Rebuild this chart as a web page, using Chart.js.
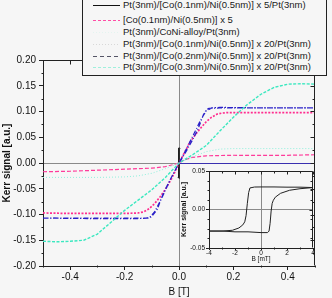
<!DOCTYPE html>
<html><head><meta charset="utf-8">
<script src="https://cdn.jsdelivr.net/npm/chart.js@4/dist/chart.umd.min.js"></script>
<style>
html,body{margin:0;padding:0;background:#f6f6f6;}
#wrap{position:relative;width:332px;height:298px;overflow:hidden;font-family:"Liberation Sans",Arial,sans-serif;}
#main{position:absolute;left:0;top:0;}
#inset{position:absolute;left:178px;top:164px;}
#legbox{position:absolute;left:82px;top:-3px;width:245px;height:79px;border:1px solid #222;background:#f6f6f6;box-sizing:border-box;}
.row{position:absolute;left:93px;height:12px;white-space:nowrap;}
.row svg{position:absolute;left:0;top:0;}
.row span{position:absolute;left:30px;top:0;font-size:9.5px;line-height:12px;color:#1a1a1a;}
</style></head>
<body><div id="wrap">
<canvas id="main" width="332" height="298"></canvas>
<canvas id="inset" width="140" height="100"></canvas>
<div id="legbox"></div>
</div>
<script>
// ---------------- data ----------------
const seriesNames = [
  'Pt(3nm)/[Co(0.1nm)/Ni(0.5nm)] x 5/Pt(3nm)',
  '[Co(0.1nm)/Ni(0.5nm)] x 5',
  'Pt(3nm)/CoNi-alloy/Pt(3nm)',
  'Pt(3nm)/[Co(0.1nm)/Ni(0.5nm)] x 20/Pt(3nm)',
  'Pt(3nm)/[Co(0.2nm)/Ni(0.5nm)] x 20/Pt(3nm)',
  'Pt(3nm)/[Co(0.3nm)/Ni(0.5nm)] x 20/Pt(3nm)'
];
// main axis ticks
const xTickValues = [-0.4, -0.2, 0, 0.2, 0.4];
const yTickValues = [-0.20, -0.15, -0.10, -0.05, 0, 0.05, 0.10, 0.15, 0.20];
// inset ticks
const insetXTickValues = [-4, -2, 0, 2, 4];
const insetYTickValues = [-0.05, 0, 0.05];

// inset hysteresis loop of Pt/[Co/Ni]x5/Pt (field in mT)
const insetFieldDown = [4, 3, 2, 1, 0, -0.5, -0.85, -0.95, -1.05, -1.15, -1.25, -1.4, -1.7, -2.2, -3, -4];
const insetKerrDown  = [0.0285, 0.029, 0.029, 0.0293, 0.0293, 0.0292, 0.028, 0.022, 0.008, -0.008, -0.016, -0.020, -0.024, -0.027, -0.028, -0.028];
const insetFieldUp   = [-4, -3, -2, -1, 0, 0.5, 0.62, 0.7, 0.78, 0.86, 0.95, 1.1, 1.5, 2.2, 3, 4];
const insetKerrUp    = [-0.028, -0.028, -0.029, -0.029, -0.030, -0.030, -0.028, -0.018, -0.002, 0.008, 0.012, 0.016, 0.021, 0.025, 0.027, 0.0285];

// [Co/Ni]x5 (no Pt)
const fieldS2 = [-0.5, -0.4, -0.3, -0.2, -0.1, -0.05, -0.02, 0, 0.02, 0.05, 0.1, 0.2, 0.3, 0.4, 0.5];
const kerrS2  = [-0.017, -0.016, -0.014, -0.012, -0.010, -0.007, -0.003, 0, 0.006, 0.011, 0.014, 0.015, 0.015, 0.015, 0.016];
// CoNi alloy
const fieldS3 = [-0.5, -0.3, -0.2, -0.15, -0.1, -0.05, 0, 0.05, 0.1, 0.15, 0.2, 0.3, 0.5];
const kerrS3  = [-0.028, -0.028, -0.027, -0.025, -0.020, -0.011, 0, 0.012, 0.022, 0.027, 0.028, 0.028, 0.028];
// x20 Co 0.1
const fieldS4 = [-0.5, -0.4, -0.3, -0.2, -0.15, -0.13, -0.11, -0.09, -0.07, -0.05, -0.03, -0.01, 0, 0.02, 0.04, 0.06, 0.08, 0.1, 0.12, 0.14, 0.16, 0.18, 0.25, 0.35, 0.5];
const kerrS4  = [-0.097, -0.098, -0.098, -0.098, -0.097, -0.095, -0.089, -0.079, -0.066, -0.051, -0.033, -0.012, 0, 0.02, 0.04, 0.055, 0.068, 0.080, 0.089, 0.095, 0.097, 0.098, 0.098, 0.098, 0.098];
// x20 Co 0.2 (up sweep then down sweep)
const fieldS5 = [-0.5, -0.3, -0.15, -0.12, -0.105, -0.09, -0.07, -0.05, -0.03, -0.01, 0, 0.02, 0.04, 0.06, 0.08, 0.1, 0.12, 0.15, 0.3, 0.5,
                 0.5, 0.3, 0.15, 0.11, 0.1, 0.09, 0.08, 0.07, 0.05, 0.03, 0.01, 0, -0.02, -0.04, -0.06, -0.08, -0.1, -0.11, -0.13, -0.3, -0.5];
const kerrS5  = [-0.107, -0.108, -0.108, -0.107, -0.104, -0.095, -0.075, -0.053, -0.030, -0.010, 0, 0.020, 0.041, 0.062, 0.084, 0.101, 0.107, 0.108, 0.107, 0.107,
                 0.107, 0.107, 0.107, 0.106, 0.103, 0.094, 0.080, 0.066, 0.045, 0.026, 0.008, 0, -0.020, -0.040, -0.062, -0.090, -0.104, -0.107, -0.107, -0.107, -0.107];
// x20 Co 0.3
const fieldS6 = [-0.5, -0.45, -0.4, -0.35, -0.3, -0.25, -0.2, -0.15, -0.1, -0.05, 0, 0.05, 0.1, 0.15, 0.2, 0.25, 0.3, 0.35, 0.4, 0.45, 0.5];
const kerrS6  = [-0.152, -0.153, -0.152, -0.150, -0.138, -0.115, -0.092, -0.072, -0.052, -0.028, 0, 0.016, 0.034, 0.062, 0.089, 0.113, 0.133, 0.147, 0.153, 0.154, 0.153];

// ---------------- helpers ----------------
const pts = (xs, ys, scale = 1) => xs.map((x, i) => ({x: x * scale, y: ys[i]}));
const styles = [
  {color: '#222222', width: 1,   dash: [],           order: 10},
  {color: '#ff3b9a', width: 1.2, dash: [4, 2],       order: 5},
  {color: '#8ef0dc', width: 1,   dash: [1, 2],       order: 4},
  {color: '#ff2d8f', width: 1.7, dash: [2, 1.5],     order: 3},
  {color: '#2a20c8', width: 1.2, dash: [5, 2, 1, 2], order: 2},
  {color: '#3ce8c0', width: 1.4, dash: [3, 1.5],     order: 1}
];
const legendSample = [
  {color: '#111111', dash: ''},
  {color: '#ff4da6', dash: '3,2'},
  {color: '#e4f4f0', dash: '1,2'},
  {color: '#d8d8d8', dash: '1,2'},
  {color: '#555566', dash: '4,3'},
  {color: '#9ff0dc', dash: '3,2'}
];

const mainData = [
  [...pts(insetFieldDown, insetKerrDown, 0.001), ...pts(insetFieldUp, insetKerrUp, 0.001)],
  pts(fieldS2, kerrS2),
  pts(fieldS3, kerrS3),
  pts(fieldS4, kerrS4),
  pts(fieldS5, kerrS5),
  pts(fieldS6, kerrS6)
];

Chart.defaults.font.family = '"Liberation Sans", Arial, sans-serif';
Chart.defaults.color = '#111';

const framePlugin = {
  id: 'frame',
  beforeDatasetsDraw(chart, args, o) {
    if (!o.zeroRight) return;
    const {ctx, chartArea: a, scales: {x, y}} = chart;
    const yy = Math.round(y.getPixelForValue(0)) + 0.5;
    ctx.save(); ctx.strokeStyle = o.zeroRight; ctx.lineWidth = 1;
    ctx.beginPath(); ctx.moveTo(x.getPixelForValue(0), yy); ctx.lineTo(a.right, yy); ctx.stroke();
    ctx.restore();
  },
  afterDraw(chart, args, o) {
    const {ctx, chartArea: a, scales: {x, y}} = chart;
    ctx.save(); ctx.strokeStyle = o.color; ctx.lineWidth = 1;
    const L = Math.round(a.left) + 0.5, R = Math.round(a.right) - 0.5, T = Math.round(a.top) + 0.5, B = Math.round(a.bottom) - 0.5;
    ctx.beginPath();
    ctx.moveTo(L, T); ctx.lineTo(R, T); ctx.lineTo(R, B);
    const isMajor = (v, m) => Math.abs(v / m - Math.round(v / m)) < 1e-6;
    let n = Math.round((x.max - x.min) / o.xMinor);
    for (let i = 0; i <= n; i++) {
      const v = x.min + i * o.xMinor;
      const px = Math.round(x.getPixelForValue(v)) + 0.5;
      const maj = isMajor(v, o.xMajor);
      ctx.moveTo(px, T); ctx.lineTo(px, T + (maj ? o.major : o.minor));
      if (!maj) { ctx.moveTo(px, B); ctx.lineTo(px, B + o.minor); }
    }
    n = Math.round((y.max - y.min) / o.yMinor);
    for (let i = 0; i <= n; i++) {
      const v = y.min + i * o.yMinor;
      const py = Math.round(y.getPixelForValue(v)) + 0.5;
      const maj = isMajor(v, o.yMajor);
      ctx.moveTo(R, py); ctx.lineTo(R - (maj ? o.major : o.minor), py);
      if (!maj) { ctx.moveTo(L, py); ctx.lineTo(L - o.minor, py); }
    }
    ctx.stroke(); ctx.restore();
  }
};

const zeroGrid = c => (c.tick && Math.abs(c.tick.value) < 1e-9) ? '#8a8a8a' : 'rgba(0,0,0,0)';

new Chart(document.getElementById('main'), {
  type: 'line',
  data: {
    datasets: mainData.map((d, i) => ({
      label: seriesNames[i], data: d, order: styles[i].order,
      borderColor: styles[i].color, borderWidth: styles[i].width, borderDash: styles[i].dash,
      pointRadius: 0, fill: false, tension: 0
    }))
  },
  options: {
    responsive: false, animation: false, devicePixelRatio: 1,
    layout: {padding: {left: 0, top: 60, right: 17, bottom: 0}},
    plugins: {
      legend: {display: false}, tooltip: {enabled: false},
      frame: {color: '#222', xMinor: 0.1, xMajor: 0.2, yMinor: 0.025, yMajor: 0.05, major: 4, minor: 2, zeroRight: '#3a30b0'}
    },
    scales: {
      x: {
        type: 'linear', min: -0.5, max: 0.5,
        afterFit(s) { s.height = 32; },
        afterBuildTicks(s) { s.ticks = xTickValues.map(v => ({value: v})); },
        ticks: {callback: v => v.toFixed(1), font: {size: 10}, color: '#111', padding: 1, maxRotation: 0, autoSkip: false},
        grid: {color: zeroGrid, tickColor: '#222', tickLength: 4, lineWidth: 1},
        border: {display: true, color: '#222'},
        title: {display: true, text: 'B [T]', font: {size: 10}, color: '#111', padding: {top: 0, bottom: 0}}
      },
      y: {
        type: 'linear', min: -0.2, max: 0.2,
        afterFit(s) { s.width = 43; },
        afterBuildTicks(s) { s.ticks = yTickValues.map(v => ({value: v})); },
        ticks: {callback: v => v.toFixed(2), font: {size: 10}, color: '#111', padding: 3, autoSkip: false},
        grid: {color: zeroGrid, tickColor: '#222', tickLength: 4, lineWidth: 1},
        border: {display: true, color: '#222'},
        title: {display: true, text: 'Kerr signal [a.u.]', font: {size: 10, weight: 'bold'}, color: '#111', padding: {top: 1, bottom: 0}}
      }
    }
  },
  plugins: [framePlugin]
});

new Chart(document.getElementById('inset'), {
  type: 'line',
  data: {
    datasets: [{
      label: seriesNames[0],
      data: [...pts(insetFieldDown, insetKerrDown), ...pts(insetFieldUp, insetKerrUp)],
      borderColor: '#222', borderWidth: 1, pointRadius: 0, fill: false, tension: 0
    }]
  },
  options: {
    responsive: false, animation: false, devicePixelRatio: 1,
    layout: {padding: {left: 0, top: 7, right: 5, bottom: 0}},
    plugins: {
      legend: {display: false}, tooltip: {enabled: false},
      frame: {color: '#222', xMinor: 1, xMajor: 2, yMinor: 0.0125, yMajor: 0.05, major: 3, minor: 2}
    },
    scales: {
      x: {
        type: 'linear', min: -4, max: 4,
        afterFit(s) { s.height = 16; },
        afterBuildTicks(s) { s.ticks = insetXTickValues.map(v => ({value: v})); },
        ticks: {callback: v => String(v), font: {size: 6.5}, color: '#111', padding: -1, maxRotation: 0, autoSkip: false},
        grid: {color: zeroGrid, tickColor: '#222', tickLength: 2, lineWidth: 1},
        border: {display: true, color: '#222'},
        title: {display: true, text: 'B [mT]', font: {size: 6.5}, color: '#111', padding: {top: 0, bottom: 1}}
      },
      y: {
        type: 'linear', min: -0.05, max: 0.05,
        afterFit(s) { s.width = 31; },
        afterBuildTicks(s) { s.ticks = insetYTickValues.map(v => ({value: v})); },
        ticks: {callback: v => v.toFixed(2), font: {size: 6.5}, color: '#111', padding: 1, autoSkip: false},
        grid: {color: zeroGrid, tickColor: '#222', tickLength: 3, lineWidth: 1},
        border: {display: true, color: '#222'},
        title: {display: true, text: 'Kerr signal [a.u.]', font: {size: 7, weight: 'bold'}, color: '#111', padding: {top: 2, bottom: 0}}
      }
    }
  },
  plugins: [framePlugin]
});

// ---------------- legend (HTML text) ----------------
const legendRowCenters = [5, 20, 32, 44, 55.5, 67];
const wrap = document.getElementById('wrap');
seriesNames.forEach((name, i) => {
  const row = document.createElement('div');
  row.className = 'row';
  row.style.top = (legendRowCenters[i] - 6) + 'px';
  const s = legendSample[i];
  row.innerHTML = '<svg width="28" height="12"><line x1="0" y1="6.5" x2="27" y2="6.5" stroke="' + s.color +
    '" stroke-width="1"' + (s.dash ? ' stroke-dasharray="' + s.dash + '"' : '') + '/></svg>';
  const sp = document.createElement('span');
  sp.textContent = name;
  row.appendChild(sp);
  wrap.appendChild(row);
});
</script>
</body></html>
